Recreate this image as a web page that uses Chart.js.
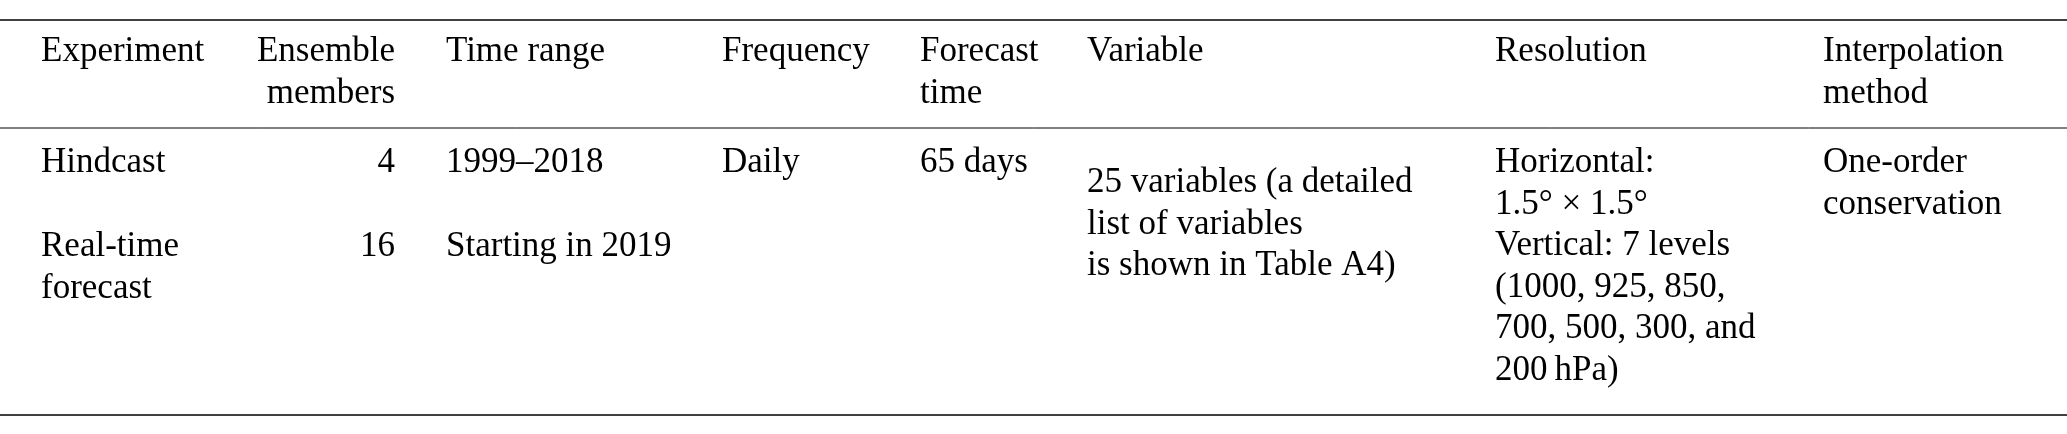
<!DOCTYPE html>
<html>
<head>
<meta charset="utf-8">
<script src="https://cdn.jsdelivr.net/npm/chart.js@4"></script>
<style>
  html, body { margin: 0; padding: 0; background: #fff; }
  #wrap { width: 2067px; height: 434px; }
</style>
</head>
<body>
<div id="wrap"><canvas id="table" width="2067" height="434"></canvas></div>
<script>
// Table content
const headers = [
  ['Experiment'],
  ['Ensemble', 'members'],
  ['Time range'],
  ['Frequency'],
  ['Forecast', 'time'],
  ['Variable'],
  ['Resolution'],
  ['Interpolation', 'method']
];
const experiments = [['Hindcast'], ['Real-time', 'forecast']];
const members = ['4', '16'];
const timeRanges = ['1999\u20132018', 'Starting in 2019'];
const frequency = ['Daily'];
const forecastTime = ['65 days'];
const variableText = ['25 variables (a detailed', 'list of variables', 'is shown in Table A4)'];
const resolutionText = ['Horizontal:', '1.5\u00b0 \u00d7 1.5\u00b0', 'Vertical: 7 levels',
  '(1000, 925, 850,', '700, 500, 300, and', '200\u2009hPa)'];
const interpolation = ['One-order', 'conservation'];

// Layout in table units (x: 0..2067, y: 0..434 top-down)
const colX = [41, 395, 446, 722, 920, 1087, 1495, 1823];
const colAlign = ['left', 'right', 'left', 'left', 'left', 'left', 'left', 'left'];
const ruleY = [20, 128, 415];
const lineGap = 41.5;
const headerTop = 52;
const row1Top = 163;
const row2Top = 247;
const variableTop = 183;

const rules = ruleY.map((y, i) => ({
  label: 'rule' + i,
  data: [{ x: 0, y: y }, { x: 2067, y: y }],
  borderColor: '#000',
  borderWidth: i === 1 ? 1 : 1.5,
  pointRadius: 0
}));

const textPlugin = {
  id: 'tableText',
  afterDatasetsDraw(chart) {
    const ctx = chart.ctx;
    const sx = chart.scales.x, sy = chart.scales.y;
    ctx.save();
    ctx.fillStyle = '#000';
    ctx.font = '35px "Liberation Serif", "DejaVu Serif", serif';
    ctx.textBaseline = 'middle';
    const put = (lines, col, top) => {
      ctx.textAlign = colAlign[col];
      lines.forEach((t, i) => {
        ctx.fillText(t, sx.getPixelForValue(colX[col]), sy.getPixelForValue(top + i * lineGap));
      });
    };
    headers.forEach((h, c) => put(h, c, headerTop));
    put(experiments[0], 0, row1Top);
    put(experiments[1], 0, row2Top);
    put([members[0]], 1, row1Top);
    put([members[1]], 1, row2Top);
    put([timeRanges[0]], 2, row1Top);
    put([timeRanges[1]], 2, row2Top);
    put(frequency, 3, row1Top);
    put(forecastTime, 4, row1Top);
    put(variableText, 5, variableTop);
    put(resolutionText, 6, row1Top);
    put(interpolation, 7, row1Top);
    ctx.restore();
  }
};

new Chart(document.getElementById('table'), {
  type: 'line',
  data: { datasets: rules },
  options: {
    responsive: false,
    devicePixelRatio: 1,
    animation: false,
    layout: { padding: 0 },
    plugins: { legend: { display: false }, tooltip: { enabled: false } },
    scales: {
      x: { type: 'linear', min: 0, max: 2067, display: false },
      y: { type: 'linear', min: 0, max: 434, reverse: true, display: false }
    }
  },
  plugins: [textPlugin]
});
</script>
</body>
</html>
